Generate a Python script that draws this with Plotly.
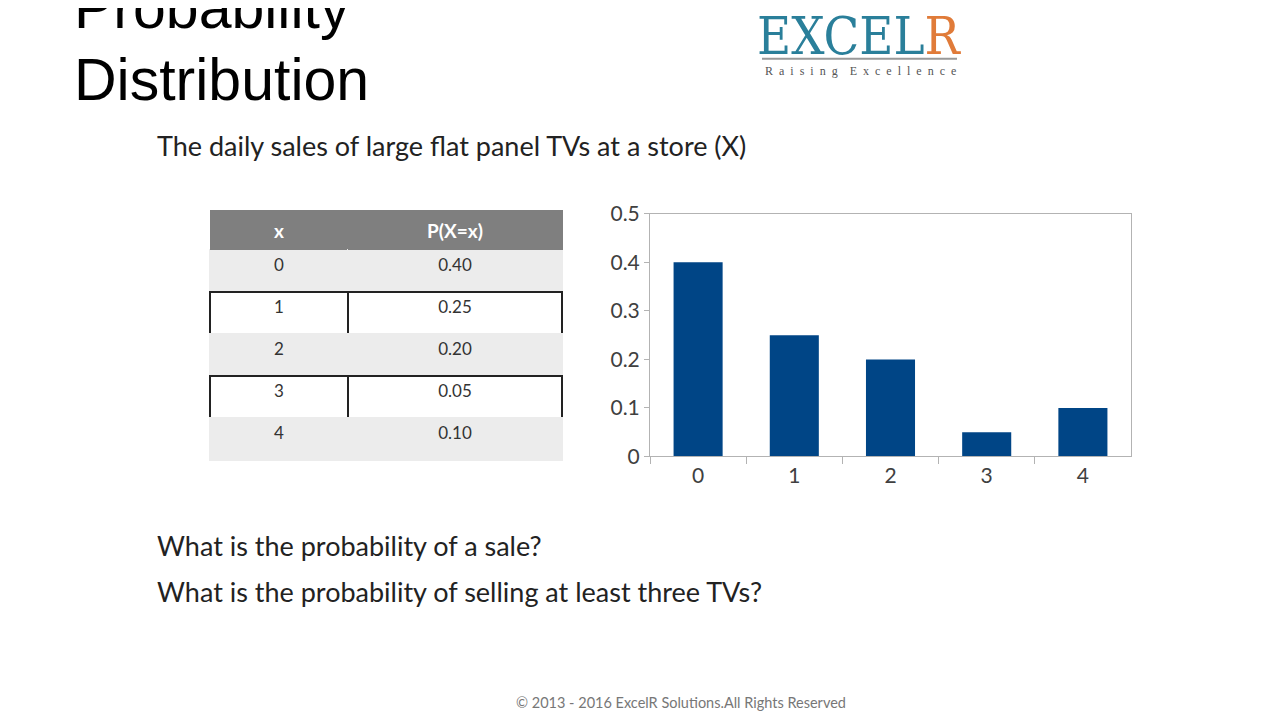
import plotly.graph_objects as go

# data
x_vals = ["0", "1", "2", "3", "4"]
probs = [0.40, 0.25, 0.20, 0.05, 0.10]
prob_labels = ["0.40", "0.25", "0.20", "0.05", "0.10"]
y_ticks = [0, 0.1, 0.2, 0.3, 0.4, 0.5]
y_tick_text = ["0", "0.1", "0.2", "0.3", "0.4", "0.5"]

W, H = 1280, 720
BAR = "#004586"
GREY_ROW = "#ececec"


# page coords (px) -> paper fractions, corrected for how the page gets photographed
def px(x):
    return (x - 8) / W


def py(y):
    return 1 - (y - 18) / 0.971 / H


fig = go.Figure()

# table: white rows get black borders, grey rows borderless
fills = [GREY_ROW if i % 2 == 0 else "white" for i in range(len(x_vals))]
lines = [GREY_ROW if i % 2 == 0 else "#222222" for i in range(len(x_vals))]
fig.add_trace(
    go.Table(
        domain=dict(x=[px(210), px(562)], y=[py(460), py(208)]),
        columnwidth=[138, 214],
        header=dict(
            values=["<b>x</b>", "<b>P(X=x)</b>"],
            fill_color="#7f7f7f",
            line_color="#7f7f7f",
            font=dict(family="Lato", size=19, color="white"),
            height=39,
            align="center",
        ),
        cells=dict(
            values=[x_vals, prob_labels],
            fill_color=[fills, fills],
            line=dict(color=[lines, lines], width=1.5),
            font=dict(family="Lato", size=17, color="#333333"),
            height=42,
            align="center",
        ),
    )
)

fig.add_trace(
    go.Bar(x=x_vals, y=probs, marker_color=BAR, marker_line_width=0, showlegend=False)
)

axis_col = "#b3b3b3"
fig.update_layout(
    width=W,
    height=H,
    margin=dict(l=0, r=0, t=0, b=0),
    paper_bgcolor="white",
    plot_bgcolor="white",
    bargap=0.49,
    xaxis=dict(
        domain=[px(650), px(1131)],
        type="category",
        showline=True,
        linecolor=axis_col,
        mirror=True,
        ticks="outside",
        tickson="boundaries",
        ticklen=7,
        tickcolor=axis_col,
        tickfont=dict(family="Lato", size=21, color="#404040"),
        showgrid=False,
    ),
    yaxis=dict(
        domain=[py(455), py(211)],
        range=[0, 0.5],
        tickvals=y_ticks,
        ticktext=y_tick_text,
        showline=True,
        linecolor=axis_col,
        mirror=True,
        ticks="outside",
        ticklen=5,
        tickcolor=axis_col,
        tickfont=dict(family="Lato", size=21, color="#404040"),
        showgrid=False,
        zeroline=False,
    ),
)


def txt(x, y, s, size, color="black", family="Lato", xanchor="left", yanchor="middle"):
    fig.add_annotation(
        x=px(x), y=py(y), xref="paper", yref="paper", text=s, showarrow=False,
        xanchor=xanchor, yanchor=yanchor, font=dict(family=family, size=size, color=color),
    )


# slide title (cut at the top edge)
txt(72, 4, "Probability", 59, family="Liberation Sans")
txt(72, 76, "Distribution", 59, family="Liberation Sans")

# logo
txt(859, 32, "<span style='color:#2a7f9a'>EXCEL</span><span style='color:#e07b39'>R</span>",
    52, family="DejaVu Serif Condensed", xanchor="center")
fig.add_shape(type="line", xref="paper", yref="paper", x0=px(762), x1=px(957),
              y0=py(55), y1=py(55), line=dict(color="#999999", width=2))
txt(860, 67, "R&nbsp; a&nbsp; i&nbsp; s&nbsp; i&nbsp; n&nbsp; g&nbsp;&nbsp;&nbsp; E&nbsp; x&nbsp; c&nbsp; e&nbsp; l&nbsp; l&nbsp; e&nbsp; n&nbsp; c&nbsp; e",
    12, color="#555555", family="Liberation Serif", xanchor="center")

txt(155, 142, "The daily sales of large flat panel TVs at a store (X)", 27, color="#222222")
txt(155, 545, "What is the probability of a sale?", 27, color="#222222")
txt(155, 591, "What is the probability of selling at least three TVs?", 27, color="#222222")
txt(681, 703, "© 2013 - 2016 ExcelR Solutions.All Rights Reserved", 14.5, color="#777777",
    xanchor="center")

fig.write_html("out.html")
